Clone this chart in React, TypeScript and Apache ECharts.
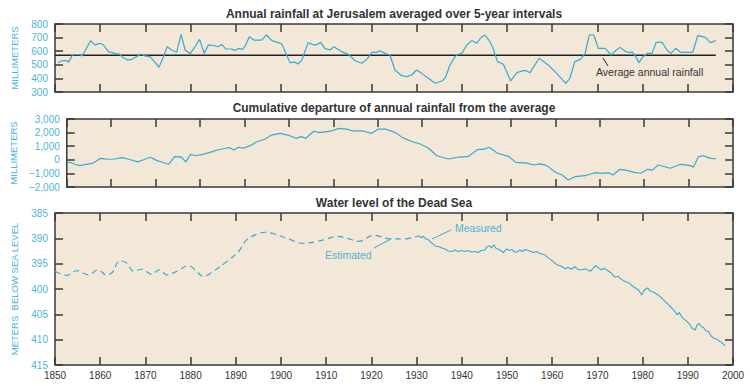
import React, { useEffect, useRef } from "react";
import * as echarts from "echarts";

// ---- Data ----
const rainYears = [1850.7,1851.5,1852.6,1853.0,1853.9,1855.5,1856.0,1857.9,1858.8,1860.0,1860.7,1861.8,1863.6,1864.2,1865.0,1866.0,1867.0,1868.0,1869.0,1869.9,1871.0,1872.0,1873.0,1874.0,1874.8,1875.8,1876.9,1877.9,1878.8,1879.9,1881.0,1882.0,1883.0,1883.9,1885.4,1886.1,1886.9,1887.8,1889.1,1889.8,1890.6,1891.5,1892.0,1893.0,1894.0,1895.7,1896.8,1898.0,1899.4,1900.2,1900.9,1902.0,1903.1,1903.8,1904.6,1906.0,1907.2,1907.8,1908.8,1909.7,1910.8,1911.7,1913.4,1914.9,1916.4,1917.9,1919.0,1920.1,1921.2,1921.9,1923.0,1924.1,1925.2,1926.7,1927.8,1928.9,1930.0,1931.1,1932.6,1934.1,1935.6,1936.3,1937.4,1938.5,1939.2,1940.0,1941.1,1942.2,1943.3,1944.2,1945.1,1946.0,1946.8,1947.9,1949.2,1950.8,1952.2,1953.6,1954.2,1955.1,1957.1,1959.1,1961.0,1963.0,1963.9,1965.0,1966.2,1967.3,1968.2,1969.2,1970.2,1971.7,1972.2,1973.0,1973.9,1975.0,1976.1,1977.1,1977.7,1978.5,1979.2,1980.0,1981.0,1982.1,1983.0,1984.3,1985.4,1986.3,1987.3,1988.4,1989.8,1991.1,1992.2,1993.9,1995.0,1996.2];
const rainMm = [515,530,530,519,575,575,565,678,646,658,646,597,580,580,555,535,540,560,580,565,560,523,482,560,633,609,592,724,609,582,633,687,584,646,640,633,650,616,616,604,621,613,633,707,682,682,719,678,663,653,597,516,519,506,535,663,646,646,665,621,609,633,597,577,530,511,540,592,592,604,584,572,462,420,413,425,462,437,401,364,381,401,499,560,577,584,646,678,658,699,719,682,633,523,504,381,442,457,457,442,548,499,437,364,401,523,540,584,719,719,621,621,604,572,601,628,601,589,595,560,516,555,584,584,665,665,609,584,621,592,592,592,714,702,663,678];

const avgYears = [1850, 1996.2];
const avgRain = 570;

const cumYears = [1850,1850.7,1851.8,1853.0,1854.4,1855.9,1857.6,1859.2,1860.7,1862.5,1864.0,1865.9,1867.3,1868.8,1870.3,1871.7,1872.9,1874.3,1875.8,1876.8,1877.9,1879.1,1880.6,1882.1,1883.9,1885.8,1886.5,1887.6,1888.7,1889.8,1891.3,1892.8,1894.6,1896.1,1898.0,1899.8,1901.6,1902.8,1903.8,1905.7,1906.8,1909.7,1911.2,1913.1,1914.5,1916.7,1918.6,1920.1,1921.9,1923.4,1924.1,1925.6,1927.8,1929.6,1931.5,1933.3,1935.9,1938.1,1940.3,1942.6,1943.8,1945.1,1947.0,1949.6,1951.1,1953.6,1955.1,1956.6,1958.1,1960.0,1961.5,1962.9,1964.4,1966.7,1968.9,1970.6,1972.0,1973.0,1974.5,1975.8,1977.8,1979.3,1980.8,1981.8,1983.2,1985.9,1988.2,1990.4,1991.1,1992.2,1993.3,1994.8,1996.2];
const cumMm = [-250,-180,-330,-430,-330,-250,110,40,60,160,40,-150,0,190,-60,-200,-330,230,190,-150,400,300,400,530,720,850,900,720,920,850,1040,1330,1510,1820,1940,1820,1580,1700,1580,2120,2000,2120,2310,2250,2120,2120,1940,2250,2250,2070,1990,1630,1330,1160,850,300,60,190,230,770,770,920,480,230,-190,-250,-380,-300,-430,-920,-1120,-1480,-1240,-1170,-950,-1000,-950,-1120,-700,-760,-920,-990,-700,-760,-380,-620,-330,-430,-550,230,300,120,60];

const estYears = [1850,1852.6,1854.8,1857.4,1859.6,1861.3,1862.6,1864.4,1865.9,1867.4,1869.2,1871.4,1873.1,1874.7,1877,1879.5,1881,1882.8,1885,1888,1890.6,1892.4,1894.6,1896.5,1898.4,1901.3,1905,1908,1910.2,1912.4,1914.6,1917.2,1920.5,1924.1,1927.1,1930];
const estLevel = [396.5,397.3,396.4,397.2,396.2,397.2,396.8,394.4,394.9,396.5,396.1,397.1,396.2,397.2,396.5,395.4,396.2,397.5,396.5,394.6,392.6,390.3,389.2,388.8,389.1,390,391,390.6,390.1,389.6,390,390.6,389.4,390.1,390.1,389.6];

const measYears = [1930,1930.5,1931,1931.5,1932,1932.6,1933.3,1934.1,1934.8,1935.6,1936.3,1937,1937.8,1938.5,1939.2,1940,1940.7,1941.3,1942,1942.9,1943.6,1944.3,1945.1,1945.6,1946.2,1946.6,1947.1,1947.6,1948.3,1949.2,1949.9,1950.5,1951.1,1951.7,1952.2,1952.8,1953.4,1954.0,1954.4,1955.0,1955.9,1956.5,1957.1,1957.7,1958.4,1959.2,1960,1961,1961.8,1962.9,1963.5,1964.2,1965,1965.8,1966.7,1967.3,1968.4,1969,1969.5,1970.2,1970.9,1971.5,1972.2,1973.1,1973.9,1974.6,1975.3,1976.1,1976.8,1977.9,1978.6,1979.2,1979.8,1980.4,1981.1,1981.7,1982.4,1983.1,1983.9,1984.8,1985.7,1986.5,1987.2,1987.6,1988.1,1988.6,1989,1989.8,1990.5,1991,1991.6,1992,1992.5,1993,1993.5,1994,1994.6,1995.2,1995.7,1996.4,1997.2,1998.3];
const measLevel = [389.7,389.5,389.9,389.6,390.1,390.3,390.9,391.5,391.6,391.9,392.1,392.5,392.6,392.3,392.6,392.4,392.6,392.4,392.7,392.6,392.8,392.4,392.3,391.6,391.5,391.9,391.3,392.0,392.2,392.8,392.1,392.4,392.2,392.7,392.7,392.3,392.6,392.2,392.3,392.5,392.8,392.6,392.9,393.1,393.3,393.9,394.4,395.2,395.4,396,395.7,396.1,395.6,396.2,396.2,396.0,396.5,396.0,395.4,395.8,396.2,395.9,396.3,396.9,397.7,397.5,398.1,398.5,398.7,399.5,399.9,400.3,401.2,400.2,399.8,400.4,400.6,401.0,401.5,402.3,403.1,403.8,404.5,405.1,404.6,405.4,405.8,406.4,407.1,407.8,408.1,407.2,406.8,407.4,407.6,408.3,408.4,409.3,409.7,409.9,410.4,411.2];

const xTickLabels = ["1850","1860","1870","1880","1890","1900","1910","1920","1930","1940","1950","1960","1970","1980","1990","2000"];

// ---- Styles ----
const CYAN = "#35abd3";
const LABEL_CYAN = "#4db5d7";
const DARK = "#333333";
const BG = "#f3e7d8";
const FONT = "Liberation Sans, Arial, sans-serif";

const zip = (xs: number[], ys: number[]) => xs.map((x, i) => [x, ys[i]]);

export default function App() {
  const ref = useRef<HTMLDivElement>(null);
  useEffect(() => {
    if (!ref.current) return;
    const chart = echarts.init(ref.current, null, { renderer: "svg" });

    const grids = [
      { left: 55, top: 24, width: 678, height: 68 },
      { left: 55, top: 119, width: 678, height: 68 },
      { left: 55, top: 213, width: 678, height: 152 },
    ].map((g) => ({
      ...g,
      show: true,
      backgroundColor: BG,
      borderColor: "#3a3a3a",
      borderWidth: 1.5,
    }));

    const tick = { inside: true, length: 8, lineStyle: { color: "#3a3a3a", width: 1.5 } };

    const xAxes: any[] = [];
    [0, 1, 2].forEach((gi) => {
      ["bottom", "top"].forEach((pos) => {
        xAxes.push({
          gridIndex: gi,
          type: "value",
          position: pos,
          min: 1850,
          max: 2000,
          interval: 10,
          axisLine: { show: false, onZero: false },
          axisTick: tick,
          splitLine: { show: false },
          axisLabel: {
            show: gi === 2 && pos === "bottom",
            color: DARK,
            fontSize: 10,
            fontFamily: FONT,
            margin: 5,
            formatter: (v: number) => xTickLabels[Math.round((v - 1850) / 10)] ?? "",
          },
        });
      });
    });

    const fmtThousands = (v: number) => {
      const s = Math.abs(v).toLocaleString("en-US");
      return v < 0 ? "\u2212" + s : s;
    };

    const ySpecs = [
      { min: 300, max: 800, interval: 100, name: "MILLIMETERS", inverse: false, fmt: (v: number) => String(v) },
      { min: -2000, max: 3000, interval: 1000, name: "MILLIMETERS", inverse: false, fmt: fmtThousands },
      { min: 385, max: 415, interval: 5, name: "METERS  BELOW SEA LEVEL", inverse: true, fmt: (v: number) => String(v) },
    ];
    const yAxes: any[] = [];
    ySpecs.forEach((s, gi) => {
      ["left", "right"].forEach((pos) => {
        yAxes.push({
          gridIndex: gi,
          type: "value",
          position: pos,
          min: s.min,
          max: s.max,
          interval: s.interval,
          inverse: s.inverse,
          axisLine: { show: false, onZero: false },
          axisTick: tick,
          splitLine: { show: false },
          axisLabel: {
            show: pos === "left",
            color: LABEL_CYAN,
            fontSize: 10,
            fontFamily: FONT,
            margin: 7,
            formatter: s.fmt,
          },
          name: pos === "left" ? s.name : "",
          nameLocation: "middle",
          nameRotate: 90,
          nameGap: 36,
          nameTextStyle: { color: LABEL_CYAN, fontSize: 9.5, fontFamily: FONT },
        });
      });
    });

    const titleStyle = (text: string, y: number) => ({
      type: "text",
      x: 394,
      y,
      style: {
        text,
        textAlign: "center",
        textVerticalAlign: "middle",
        fill: DARK,
        fontSize: 12,
        fontWeight: "bold",
        fontFamily: FONT,
      },
    });

    chart.setOption({
      animation: false,
      grid: grids,
      xAxis: xAxes,
      yAxis: yAxes,
      series: [
        {
          type: "line",
          xAxisIndex: 0,
          yAxisIndex: 0,
          data: zip(rainYears, rainMm),
          symbol: "none",
          lineStyle: { color: CYAN, width: 1.2 },
          z: 3,
        },
        {
          type: "line",
          xAxisIndex: 0,
          yAxisIndex: 0,
          data: avgYears.map((y) => [y, avgRain]),
          symbol: "none",
          lineStyle: { color: "#222", width: 1.4 },
          z: 2,
        },
        {
          type: "line",
          xAxisIndex: 2,
          yAxisIndex: 2,
          data: zip(cumYears, cumMm),
          symbol: "none",
          lineStyle: { color: CYAN, width: 1.2 },
        },
        {
          type: "line",
          xAxisIndex: 4,
          yAxisIndex: 4,
          data: zip(estYears, estLevel),
          symbol: "none",
          smooth: 0.4,
          lineStyle: { color: CYAN, width: 1.2, type: [6, 4] },
        },
        {
          type: "line",
          xAxisIndex: 4,
          yAxisIndex: 4,
          data: zip(measYears, measLevel),
          symbol: "none",
          lineStyle: { color: CYAN, width: 1.1 },
        },
      ],
      graphic: [
        titleStyle("Annual rainfall at Jerusalem averaged over 5-year intervals", 14),
        titleStyle("Cumulative departure of annual rainfall from the average", 108),
        titleStyle("Water level of the Dead Sea", 203),
        {
          type: "text",
          x: 596,
          y: 72,
          style: {
            text: "Average annual rainfall",
            textVerticalAlign: "middle",
            fill: DARK,
            fontSize: 10.5,
            fontFamily: FONT,
          },
        },
        {
          type: "line",
          shape: { x1: 603, y1: 58, x2: 608, y2: 66 },
          style: { stroke: "#222", lineWidth: 1 },
        },
        {
          type: "text",
          x: 455,
          y: 228,
          style: {
            text: "Measured",
            textVerticalAlign: "middle",
            fill: LABEL_CYAN,
            fontSize: 10.5,
            fontFamily: FONT,
          },
        },
        {
          type: "line",
          shape: { x1: 432, y1: 239, x2: 451, y2: 230 },
          style: { stroke: CYAN, lineWidth: 1 },
        },
        {
          type: "text",
          x: 325,
          y: 255,
          style: {
            text: "Estimated",
            textVerticalAlign: "middle",
            fill: LABEL_CYAN,
            fontSize: 10.5,
            fontFamily: FONT,
          },
        },
        {
          type: "line",
          shape: { x1: 374, y1: 248, x2: 391, y2: 239 },
          style: { stroke: CYAN, lineWidth: 1 },
        },
      ],
    });
    return () => chart.dispose();
  }, []);
  return (
    <div
      ref={ref}
      style={{ position: "fixed", left: 0, top: 0, width: 750, height: 386, background: "#ffffff" }}
    />
  );
}
